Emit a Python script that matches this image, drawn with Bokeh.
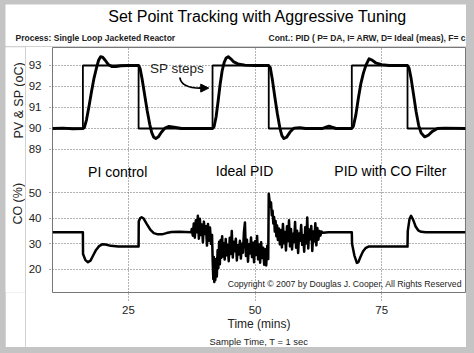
import math
from bokeh.plotting import figure
from bokeh.models import Range1d, FixedTicker, Label, Arrow, NormalHead, Title
from bokeh.layouts import column, row
from bokeh.core.properties import value
from bokeh.embed import file_html
from bokeh.resources import INLINE

FONT = "Liberation Sans"

# ---------------- data (minutes, values) ----------------
sp_time = [10.0, 16.0, 16.0, 27.0, 27.0, 41.6, 41.6, 52.7, 52.7, 69.1, 69.1, 80.1, 80.1, 91.55]
sp_value = [90, 90, 93, 93, 90, 90, 93, 93, 90, 90, 93, 93, 90, 90]

pv_time = [10.0, 12.0, 14.0, 16.0, 16.3, 16.7, 17.2, 17.7, 18.2, 18.7, 19.1, 19.5, 19.9, 20.4, 21.0,
           21.7, 22.5, 23.5, 25.0, 27.0, 27.3, 27.7, 28.2, 28.7, 29.2, 29.6, 30.0, 30.4, 30.9, 31.5,
           32.2, 33.0, 34.0, 35.5, 41.6, 41.9, 42.3, 42.7, 43.1, 43.5, 43.9, 44.3, 44.7, 45.2, 45.8,
           46.6, 48.0, 50.0, 52.7, 53.0, 53.4, 53.9, 54.4, 54.9, 55.3, 55.7, 56.2, 56.9, 57.7, 58.8,
           60.0, 63.3, 64.0, 64.6, 65.2, 66.0, 69.1, 69.4, 69.9, 70.4, 70.9, 71.4, 71.9, 72.5, 73.1,
           73.8, 75.0, 76.5, 80.1, 80.4, 80.8, 81.3, 81.8, 82.3, 82.8, 83.5, 84.2, 85.0, 86.0, 87.5,
           91.55]
pv_value = [90.0, 90.02, 89.99, 90.0, 90.05, 90.4, 91.05, 91.75, 92.4, 92.9, 93.25, 93.42, 93.4, 93.25, 93.05,
            92.95, 92.95, 92.99, 93.0, 93.0, 92.85, 92.35, 91.6, 90.85, 90.2, 89.8, 89.58, 89.52, 89.6, 89.82,
            90.02, 90.1, 90.06, 90.0, 90.0, 90.08, 90.55, 91.3, 92.1, 92.75, 93.15, 93.36, 93.42, 93.32, 93.17,
            93.08, 93.02, 93.0, 93.0, 92.9, 92.35, 91.5, 90.7, 90.02, 89.66, 89.52, 89.58, 89.83, 90.02, 90.04,
            90.0, 90.0, 90.07, 90.11, 90.06, 90.0, 90.0, 90.1, 90.65, 91.45, 92.15, 92.65, 93.02, 93.32, 93.26,
            93.13, 93.04, 93.0, 93.0, 92.88, 92.4, 91.6, 90.8, 90.15, 89.78, 89.6, 89.68, 89.86, 90.0, 90.02,
            90.0]

co_time = [10.0, 16.0, 16.03, 16.5, 17.0, 17.5, 18.0, 18.6, 19.2, 19.8, 20.5, 21.5, 23.0, 27.0, 27.03,
           27.3, 27.6, 28.0, 28.6, 29.3, 30.0, 30.8, 31.6, 32.5, 33.5, 35.0, 37.4,
           37.5, 37.7, 37.9, 38.1, 38.3, 38.5, 38.7, 38.9, 39.1, 39.3, 39.5, 39.7, 39.9, 40.1, 40.3,
           40.5, 40.7, 40.9, 41.1, 41.3, 41.5,
           41.65, 41.75, 41.85, 41.95, 42.05, 42.15, 42.3, 42.45, 42.6, 42.75, 42.9, 43.05, 43.2, 43.35,
           43.5, 43.65, 43.8, 44.0, 44.2, 44.4, 44.6, 44.8, 45.0, 45.2, 45.4, 45.6, 45.8, 46.0, 46.2,
           46.4, 46.6, 46.8, 47.0, 47.2, 47.4, 47.6, 47.8, 48.0, 48.2, 48.4, 48.6, 48.8, 49.0, 49.2,
           49.4, 49.6, 49.8, 50.0, 50.2, 50.4, 50.6, 50.8, 51.0, 51.2, 51.4, 51.6, 51.8, 52.0, 52.2,
           52.4, 52.6,
           52.7, 52.85, 53.0, 53.15, 53.3, 53.45, 53.6, 53.75, 53.9, 54.05, 54.2, 54.35, 54.5, 54.7,
           54.9, 55.1, 55.3, 55.5, 55.7, 55.9, 56.1, 56.3, 56.5, 56.7, 56.9, 57.1, 57.3, 57.5, 57.7,
           57.9, 58.1, 58.3, 58.5, 58.7, 58.9, 59.1, 59.3, 59.5, 59.7, 59.9, 60.1, 60.3, 60.5, 60.7,
           60.9, 61.1, 61.3, 61.5, 61.7, 61.9, 62.1, 62.3, 62.5, 62.7, 62.9, 63.1,
           63.4, 64.5, 69.1, 69.15, 69.6, 70.1, 70.4, 70.8, 71.3, 71.8, 72.4, 74.0, 80.1, 80.15,
           80.5, 80.8, 81.2, 81.7, 82.2, 82.8, 83.7, 91.55]
co_value = [34.5, 34.5, 26.0, 23.6, 22.8, 23.4, 25.3, 27.6, 29.1, 29.8, 29.7, 29.2, 28.9, 28.9, 38.8,
            40.0, 40.4, 39.9, 37.8, 35.6, 34.2, 33.7, 33.7, 34.2, 34.6, 34.7, 34.5,
            35.8, 33.2, 38.0, 32.4, 39.2, 34.5, 41.0, 32.0, 39.8, 33.5, 37.6, 30.5, 38.7, 33.8, 36.9,
            29.3, 37.8, 31.2, 36.4, 30.0, 33.5,
            22.0, 16.2, 24.8, 15.0, 21.5, 15.8, 24.0, 17.2, 27.5, 20.5, 30.8, 22.0, 31.5, 24.5,
            33.0, 25.0, 30.2, 23.8, 31.9, 25.5, 29.6, 23.2, 32.4, 26.0, 35.0, 24.6, 30.8, 27.1, 32.0,
            23.5, 29.4, 25.8, 31.2, 24.2, 30.0, 26.5, 34.6, 38.4, 25.2, 31.6, 23.0, 29.8, 26.2, 32.5,
            24.8, 30.4, 22.8, 31.0, 25.6, 33.1, 23.9, 29.7, 22.6, 30.6, 24.4, 28.5, 21.8, 27.9, 21.5,
            29.2, 24.0,
            49.6, 47.0, 44.5, 46.2, 41.2, 43.0, 38.0, 40.5, 34.8, 38.9, 33.0, 37.2, 31.5, 36.0,
            29.8, 35.4, 28.6, 37.8, 30.2, 34.6, 27.4, 36.9, 31.0, 39.2, 29.0, 35.8, 27.8, 33.9, 30.6,
            38.6, 28.5, 35.1, 26.4, 34.0, 31.2, 37.4, 29.6, 33.4, 26.9, 36.5, 30.1, 40.3, 28.2, 35.6,
            31.8, 37.0, 27.2, 34.8, 30.9, 38.1, 29.4, 36.2, 31.6, 35.0, 33.2, 34.8,
            34.3, 34.5, 34.5, 30.0, 25.5, 22.5, 22.8, 24.8, 27.0, 28.3, 28.9, 28.9, 28.9, 35.0,
            39.8, 41.0, 39.5, 36.8, 35.3, 34.7, 34.5, 34.5]

x_ticks = [25, 50, 75]
pv_ticks = [89, 90, 91, 92, 93]
co_ticks = [20, 30, 40, 50]

# ---------------- layout geometry (page pixels) ----------------
X0, X1 = 10.0, 91.55
CO0, CO1 = 10.9, 107.0
PV0, PV1 = 82.19, 93.857
PAGE_L, PAGE_R, PAGE_T, PAGE_B = 50.0, 465.0, 47.0, 292.0   # frame edges on the page
INNER_L, INNER_T, INNER_R, INNER_B = 5, 4, 466, 347          # white area inside the grey border
TOP_H = 42
LEFT_W = 20


def sx(px):
    return X0 + (px - PAGE_L) * (X1 - X0) / (PAGE_R - PAGE_L)


def sy(py):
    return CO1 - (py - PAGE_T) * (CO1 - CO0) / (PAGE_B - PAGE_T)


def strip(x_left, x_right, y_top, y_bottom):
    f = figure(width=x_right - x_left, height=y_bottom - y_top,
               x_range=Range1d(x_left, x_right), y_range=Range1d(-y_bottom, -y_top),
               output_backend="svg", toolbar_location=None, min_border=0,
               x_axis_location=None, y_axis_location=None, title_location=None)
    f.outline_line_color = None
    f.background_fill_color = "white"
    f.border_fill_color = "white"
    f.xgrid.visible = False
    f.ygrid.visible = False
    return f


def strip_text(f, px, py, text, size, align="left", style="normal", angle=0.0, color="black"):
    f.text(x=[px], y=[-py], text=[text], text_font=value(FONT), text_font_size=value(size),
           text_align=align, text_baseline="middle", text_font_style=style, angle=angle,
           text_color=color)


# top strip: title and header line
top = strip(INNER_L, INNER_R, INNER_T, INNER_T + TOP_H)
strip_text(top, 257.5, 15.5, "Set Point Tracking with Aggressive Tuning", "16px", align="center")
strip_text(top, 15, 37, "Process: Single Loop Jacketed Reactor", "8.5px", style="bold", color="#222222")
strip_text(top, 268, 37, "Cont.: PID ( P= DA, I= ARW, D= Ideal (meas), F= c", "8.5px", style="bold",
           color="#222222")

# left strip: rotated axis titles
left = strip(INNER_L, INNER_L + LEFT_W, INNER_T + TOP_H, INNER_B)
strip_text(left, 18, 111, "PV & SP (oC)", "12.5px", align="center", angle=math.pi / 2, color="#222222")
strip_text(left, 17, 238, "CO (%)", "12.5px", align="center", angle=math.pi / 2, color="#222222")

# main plot
main_left = INNER_L + LEFT_W
p = figure(width=INNER_R - main_left, height=INNER_B - (INNER_T + TOP_H),
           x_range=Range1d(X0, X1), y_range=Range1d(CO0, CO1),
           output_backend="svg", toolbar_location=None, title_location=None,
           min_border_left=int(PAGE_L - main_left), min_border_right=int(INNER_R - PAGE_R),
           min_border_top=int(PAGE_T - (INNER_T + TOP_H)), min_border_bottom=int(INNER_B - PAGE_B))
p.extra_y_ranges = {"pv": Range1d(PV0, PV1)}
p.background_fill_color = "white"
p.border_fill_color = "white"
p.outline_line_color = "#777777"
p.outline_line_width = 1

# one left axis carrying both scales (PV ticks mapped into the CO range)
pv_in_co = [CO0 + (v - PV0) * (CO1 - CO0) / (PV1 - PV0) for v in pv_ticks]
yticker = FixedTicker(ticks=co_ticks + pv_in_co)
overrides = {float(t): str(v) for t, v in zip(co_ticks, co_ticks)}
overrides.update({t: str(v) for t, v in zip(pv_in_co, pv_ticks)})

ya = p.yaxis[0]
ya.ticker = yticker
ya.major_label_overrides = overrides
ya.axis_line_color = None
ya.major_tick_out = 3
ya.major_tick_in = 0
ya.major_tick_line_color = "#666666"
ya.major_tick_line_dash = "1 2"
ya.minor_tick_line_color = None
ya.major_label_standoff = 8
ya.major_label_text_font = FONT
ya.major_label_text_font_size = "11.5px"
ya.major_label_text_color = "#222222"

xa = p.xaxis[0]
xa.ticker = FixedTicker(ticks=x_ticks)
xa.axis_line_color = None
xa.major_tick_out = 8
xa.major_tick_in = 0
xa.major_tick_line_color = "#666666"
xa.major_tick_line_dash = "1 2"
xa.minor_tick_line_color = None
xa.major_label_standoff = 5
xa.major_label_text_font = FONT
xa.major_label_text_font_size = "11.5px"
xa.major_label_text_color = "#222222"
xa.axis_label = "Time (mins)"
xa.axis_label_text_font = FONT
xa.axis_label_text_font_size = "12px"
xa.axis_label_text_font_style = "normal"
xa.axis_label_text_color = "#222222"
xa.axis_label_standoff = 0

p.add_layout(Title(text="Sample Time, T = 1 sec", align="center", offset=-4, standoff=0,
                   text_font=FONT, text_font_size="9.4px", text_font_style="normal",
                   text_color="#222222"), "below")

for g in (p.xgrid[0], p.ygrid[0]):
    g.grid_line_color = "#666666"
    g.grid_line_dash = "1 2"
    g.grid_line_width = 1
p.xgrid[0].ticker = FixedTicker(ticks=x_ticks)
p.ygrid[0].ticker = yticker

# data lines
p.line(sp_time, sp_value, y_range_name="pv", line_width=1.8, color="black")
p.line(pv_time, pv_value, y_range_name="pv", line_width=2.9, color="black", line_join="round")
p.line(co_time, co_value, line_width=2.5, color="black", line_join="round")

# curved arrow for "SP steps"
p.bezier(x0=[sx(178)], y0=[sy(77)], x1=[sx(199)], y1=[sy(87.6)],
         cx0=[sx(179)], cy0=[sy(85)], cx1=[sx(188)], cy1=[sy(87.6)],
         line_width=1.8, line_color="black")
p.add_layout(Arrow(end=NormalHead(size=8, fill_color="black", line_color="black"),
                   x_start=sx(197), y_start=sy(87.6), x_end=sx(207), y_end=sy(87.6),
                   line_width=1.8, line_color="black"))


def add_text(px, py, text, size, align="left", color="black"):
    p.add_layout(Label(x=sx(px), y=sy(py), text=text, text_font=FONT, text_font_size=size,
                       text_align=align, text_baseline="middle", text_color=color))


add_text(148, 67.5, "SP steps", "13.5px", color="#222222")
add_text(115.5, 171.5, "PI control", "14px", align="center")
add_text(243, 170, "Ideal PID", "14px", align="center")
add_text(389.5, 170, "PID with CO Filter", "14px", align="center")
add_text(226, 283, "Copyright \u00a9 2007 by Douglas J. Cooper, All Rights Reserved", "8.7px", color="#222222")

layout = column(top, row(left, p), styles={"background-color": "#c4c4c4", "padding": "4px 8px 6px 5px"})

open("out.html", "w").write(file_html(layout, INLINE))
